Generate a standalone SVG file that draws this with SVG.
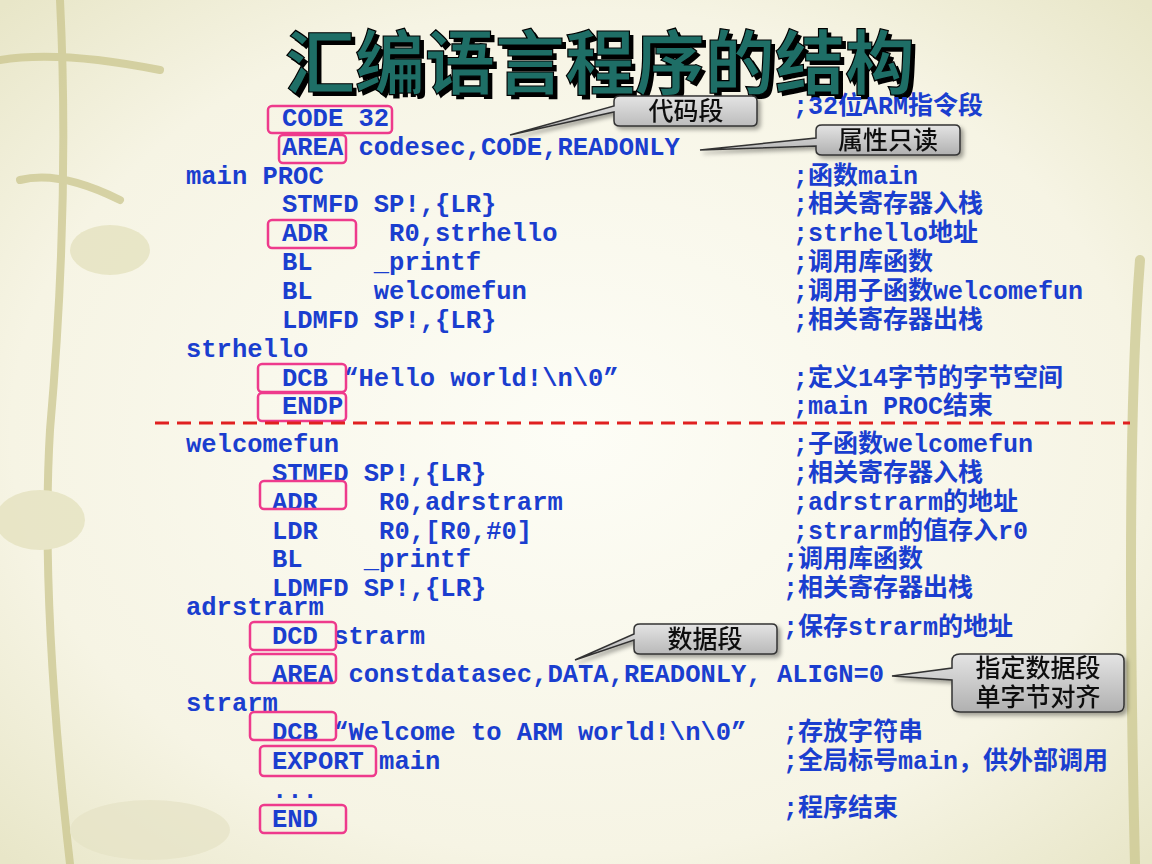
<svg xmlns="http://www.w3.org/2000/svg" width="1152" height="864" viewBox="0 0 1152 864">
<defs>
<radialGradient id="bg" cx="0.5" cy="0.5" r="0.7"><stop offset="0" stop-color="#fdfdf6"/><stop offset="0.7" stop-color="#f6f4e4"/><stop offset="1" stop-color="#e8e6c8"/></radialGradient>
<linearGradient id="call" x1="0" y1="0" x2="0" y2="1"><stop offset="0" stop-color="#e4e4e4"/><stop offset="1" stop-color="#b0b0b0"/></linearGradient>
<filter id="sh" x="-10%" y="-10%" width="130%" height="140%"><feDropShadow dx="3" dy="3" stdDeviation="2" flood-color="#000" flood-opacity="0.35"/></filter>
</defs>
<style>
text{white-space:pre}
.c{font-family:"Liberation Mono","Noto Sans CJK SC",monospace;font-weight:bold;font-size:25.5px;fill:#1a3ecf}
.m{font-family:"Liberation Mono","Noto Sans CJK SC",monospace;font-weight:bold;font-size:25px;fill:#1a3ecf}
.b{fill:none;stroke:#ee3a8c;stroke-width:2.5}
.cl{fill:url(#call);stroke:#333;stroke-width:1.5}
.ct{font-family:"Noto Sans CJK SC",sans-serif;font-weight:500;font-size:25px;fill:#111;text-anchor:middle}
</style>
<rect width="1152" height="864" fill="url(#bg)"/>
<g id="decor" fill="none" stroke="#c9c48a" stroke-width="8" opacity="0.7" stroke-linecap="round">
<path d="M60 0 Q70 200 50 430 Q40 600 70 864"/>
<path d="M0 60 Q60 50 160 70"/>
<path d="M20 180 Q60 170 120 200"/>
<path d="M1140 260 Q1125 450 1135 864" stroke-width="10"/>
<ellipse cx="110" cy="250" rx="40" ry="25" fill="#e3e0bb" stroke="none"/>
<ellipse cx="40" cy="520" rx="45" ry="30" fill="#e3e0bb" stroke="none"/>
<ellipse cx="150" cy="830" rx="80" ry="30" fill="#e6e3c6" stroke="none"/>
</g>
<g id="title">
<text x="604" y="93" font-family="'Noto Sans CJK SC',sans-serif" font-weight="bold" font-size="70" fill="#000" text-anchor="middle">汇编语言程序的结构</text>
<text x="600" y="89" font-family="'Noto Sans CJK SC',sans-serif" font-weight="bold" font-size="70" fill="#1e6e66" stroke="#000" stroke-width="1.2" text-anchor="middle">汇编语言程序的结构</text>
</g>
<g id="code" xml:space="preserve">
<text class="c" x="282" y="126">CODE 32</text>
<text class="c" x="282" y="155">AREA codesec,CODE,READONLY</text>
<text class="c" x="186" y="184">main PROC</text>
<text class="c" x="282" y="212">STMFD SP!,{LR}</text>
<text class="c" x="282" y="241">ADR    R0,strhello</text>
<text class="c" x="282" y="270">BL    _printf</text>
<text class="c" x="282" y="299">BL    welcomefun</text>
<text class="c" x="282" y="328">LDMFD SP!,{LR}</text>
<text class="c" x="186" y="357">strhello</text>
<text class="c" x="282" y="386">DCB “Hello world!\n\0”</text>
<text class="c" x="282" y="414">ENDP</text>
<text class="c" x="186" y="452">welcomefun</text>
<text class="c" x="272" y="481">STMFD SP!,{LR}</text>
<text class="c" x="272" y="510">ADR    R0,adrstrarm</text>
<text class="c" x="272" y="539">LDR    R0,[R0,#0]</text>
<text class="c" x="272" y="567">BL    _printf</text>
<text class="c" x="272" y="596">LDMFD SP!,{LR}</text>
<text class="c" x="186" y="615">adrstrarm</text>
<text class="c" x="272" y="644">DCD strarm</text>
<text class="c" x="272" y="682">AREA constdatasec,DATA,READONLY, ALIGN=0</text>
<text class="c" x="186" y="711">strarm</text>
<text class="c" x="272" y="740">DCB “Welcome to ARM world!\n\0”</text>
<text class="c" x="272" y="769">EXPORT main</text>
<text class="c" x="272" y="798">...</text>
<text class="c" x="272" y="827">END</text>
</g>
<g id="comments">
<text class="m" x="793" y="114">;32位ARM指令段</text>
<text class="m" x="793" y="184">;函数main</text>
<text class="m" x="793" y="212">;相关寄存器入栈</text>
<text class="m" x="793" y="241">;strhello地址</text>
<text class="m" x="793" y="270">;调用库函数</text>
<text class="m" x="793" y="299">;调用子函数welcomefun</text>
<text class="m" x="793" y="328">;相关寄存器出栈</text>
<text class="m" x="793" y="386">;定义14字节的字节空间</text>
<text class="m" x="793" y="414">;main PROC结束</text>
<text class="m" x="793" y="452">;子函数welcomefun</text>
<text class="m" x="793" y="481">;相关寄存器入栈</text>
<text class="m" x="793" y="510">;adrstrarm的地址</text>
<text class="m" x="793" y="539">;strarm的值存入r0</text>
<text class="m" x="783" y="567">;调用库函数</text>
<text class="m" x="783" y="596">;相关寄存器出栈</text>
<text class="m" x="783" y="635">;保存strarm的地址</text>
<text class="m" x="783" y="740">;存放字符串</text>
<text class="m" x="783" y="769">;全局标号main，供外部调用</text>
<text class="m" x="783" y="816">;程序结束</text>
</g>
<g id="highlights">
<rect class="b" x="268" y="106" width="124" height="27" rx="4"/>
<rect class="b" x="279" y="135" width="67" height="28" rx="4"/>
<rect class="b" x="268" y="220" width="88" height="28" rx="4"/>
<rect class="b" x="258" y="364" width="88" height="28" rx="4"/>
<rect class="b" x="258" y="393" width="88" height="28" rx="4"/>
<rect class="b" x="260" y="481" width="86" height="28" rx="4"/>
<rect class="b" x="250" y="622" width="86" height="28" rx="4"/>
<rect class="b" x="250" y="654" width="86" height="29" rx="4"/>
<rect class="b" x="250" y="712" width="86" height="28" rx="4"/>
<rect class="b" x="260" y="746" width="116" height="30" rx="4"/>
<rect class="b" x="260" y="805" width="86" height="28" rx="4"/>
</g>
<g id="divider"><line x1="155" y1="423" x2="1130" y2="423" stroke="#e02020" stroke-width="3" stroke-dasharray="14 8"/></g>
<g id="callouts" filter="url(#sh)">
<path class="cl" d="M620 96 H752 Q757 96 757 101 V121 Q757 126 752 126 H620 Q614 126 614 121 V112 L510 135 L614 106 V101 Q614 96 620 96 Z"/>
<text class="ct" x="686" y="120">代码段</text>
<path class="cl" d="M822 125 H955 Q960 125 960 130 V150 Q960 155 955 155 H822 Q816 155 816 150 V146 L700 150 L816 138 V130 Q816 125 822 125 Z"/>
<text class="ct" x="888" y="149">属性只读</text>
<path class="cl" d="M640 624 H772 Q777 624 777 629 V649 Q777 654 772 654 H640 Q634 654 634 649 V640 L575 660 L634 634 V629 Q634 624 640 624 Z"/>
<text class="ct" x="705" y="648">数据段</text>
<path class="cl" d="M960 654 H1117 Q1124 654 1124 661 V705 Q1124 712 1117 712 H960 Q952 712 952 705 V680 L892 676 L952 668 V661 Q952 654 960 654 Z"/>
<text class="ct" x="1038" y="677">指定数据段</text>
<text class="ct" x="1038" y="706">单字节对齐</text>
</g>
</svg>
